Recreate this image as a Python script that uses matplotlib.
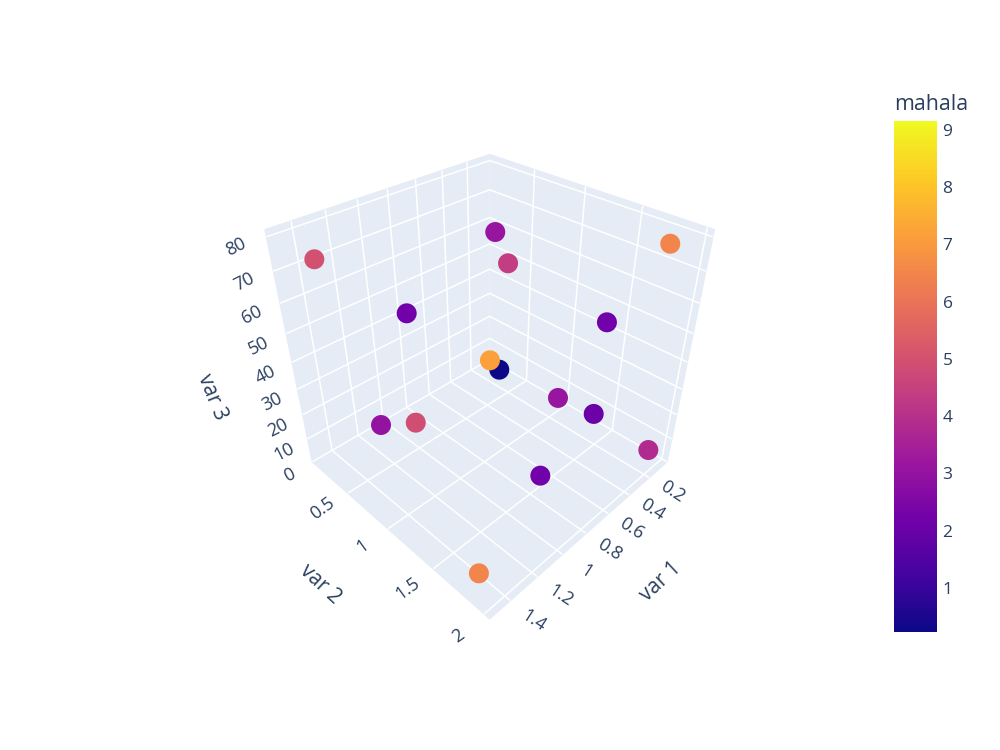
import matplotlib
matplotlib.use('Agg')
import matplotlib.pyplot as plt
from matplotlib.cm import ScalarMappable
from matplotlib.colors import LinearSegmentedColormap, Normalize
from mpl_toolkits.mplot3d import proj3d

plt.rcParams['font.family'] = ['Open Sans', 'DejaVu Sans']

# values (depth along the line of sight is a guess)
var1 = [1.42, 0.43, 0.519, 0.187, 1.144, 0.421, 1.137, 0.421, 0.584, 0.44, 1.267, 1.166, 0.134, 0.896, 1.436]
var2 = [0.278, 0.627, 0.874, 1.886, 0.729, 1.683, 1.511, 0.671, 1.481, 1.677, 0.51, 0.77, 1.954, 1.696, 1.805]
var3 = [75, 70, 65, 79, 60, 57, 60, 20, 31, 25, 19, 23, 7, 17, 4]
mahala = [5.0, 3.1, 4.4, 6.5, 2.2, 2.2, 7.2, 0.25, 3.1, 2.1, 3.0, 4.9, 3.8, 2.2, 6.5]

var1_ticks = [0.2, 0.4, 0.6, 0.8, 1, 1.2, 1.4]
var2_ticks = [0.5, 1, 1.5, 2]
var3_ticks = [0, 10, 20, 30, 40, 50, 60, 70, 80]
color_ticks = [1, 2, 3, 4, 5, 6, 7, 8, 9]

plasma = ['#0d0887', '#46039f', '#7201a8', '#9c179e', '#bd3786', '#d8576b', '#ed7953', '#fb9f3a', '#fdca26', '#f0f921']
cmap = LinearSegmentedColormap.from_list('plasma_px', plasma)
norm = Normalize(0.231, 9.157)
text_color = '#2a3f5f'
X = (0.01, 1.544)
Y = (0.01, 2.05)
Z = (0, 82)

fig = plt.figure(figsize=(10, 7.5), dpi=100)
ax = fig.add_axes([0.2476, 0.1981, 0.4714, 0.6285], projection='3d')
ax.set_proj_type('persp', focal_length=0.27)
ax.set_box_aspect((1, 1, 1))
ax.view_init(elev=35.26, azim=45)
ax.set_xlim(*X)
ax.set_ylim(*Y)
ax.set_zlim(*Z)
ax.patch.set_alpha(0)

ax.scatter(var1, var2, var3, c=mahala, cmap=cmap, norm=norm, s=207, linewidths=0, depthshade=False, alpha=1)

for axis in (ax.xaxis, ax.yaxis, ax.zaxis):
    axis.set_pane_color('#E5ECF6')
    axis.pane.set_edgecolor('#E5ECF6')
    axis.line.set_color((0, 0, 0, 0))
    axis._axinfo['grid']['color'] = 'white'
    axis._axinfo['grid']['linewidth'] = 1.1
    axis._axinfo['tick']['inward_factor'] = 0
    axis._axinfo['tick']['outward_factor'] = 0

ax.set_xticks(var1_ticks, [''] * len(var1_ticks))
ax.set_yticks(var2_ticks, [''] * len(var2_ticks))
ax.set_zticks(var3_ticks, [''] * len(var3_ticks))

# plotly tilts its tick labels, mplot3d cannot, so place them by hand at the projected spot
fig.canvas.draw()
M = ax.get_proj()

def tick_text(x, y, z, label, rot):
    tx, ty, _ = proj3d.proj_transform(x, y, z, M)
    ax.text2D(tx, ty, label, transform=ax.transData, rotation=rot, ha='center', va='center',
              fontsize=13, color=text_color)

for v in var1_ticks:
    tick_text(v, Y[1] + 0.21, Z[0], f'{v:g}', -33)
for v in var2_ticks:
    tick_text(X[1] + 0.17, v, Z[0], f'{v:g}', 36)
for v in var3_ticks:
    tick_text(X[1] + 0.16, Y[0], v, f'{v:g}', 27)

fig.text(0.661, 1 - 582 / 750, 'var 1', rotation=43, ha='center', va='center', fontsize=15, color=text_color)
fig.text(0.320, 1 - 584 / 750, 'var 2', rotation=-43, ha='center', va='center', fontsize=15, color=text_color)
fig.text(0.212, 1 - 397 / 750, 'var 3', rotation=-68, ha='center', va='center', fontsize=15, color=text_color)

cax = fig.add_axes([0.894, 118 / 750, 0.043, 511 / 750])
cb = fig.colorbar(ScalarMappable(norm, cmap), cax=cax, ticks=color_ticks)
cb.outline.set_visible(False)
cax.tick_params(length=0, pad=4, labelsize=12.5, labelcolor=text_color)
fig.text(0.894, 1 - 104 / 750, 'mahala', ha='left', va='center', fontsize=15.3, color=text_color)

fig.savefig('out.png')
